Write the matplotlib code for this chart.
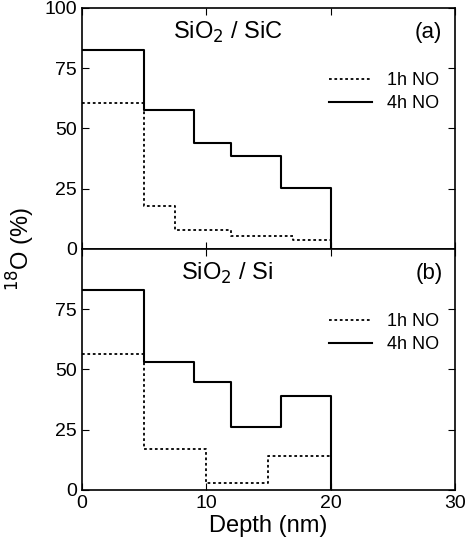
import matplotlib
matplotlib.use("Agg")
import matplotlib.pyplot as plt

plt.rcParams["font.family"] = ["Liberation Sans", "DejaVu Sans"]

# step edges (nm) and 18O fraction (%) per step
sic_4h_edges = [0, 5, 9, 12, 16, 20]
sic_4h_vals = [82.5, 57.5, 44, 38.5, 25.5]
sic_1h_edges = [0, 5, 7.5, 12, 17, 20]
sic_1h_vals = [60.5, 18, 8, 5.5, 3.8]

si_4h_edges = [0, 5, 9, 12, 16, 20]
si_4h_vals = [83, 53, 45, 26, 39]
si_1h_edges = [0, 5, 10, 15, 20]
si_1h_vals = [56.5, 17, 3, 14]


def steps(edges, vals):
    xs, ys = [], []
    for i, v in enumerate(vals):
        xs += [edges[i], edges[i + 1]]
        ys += [v, v]
    xs.append(edges[-1])
    ys.append(0)
    return xs, ys


fig = plt.figure(figsize=(4.68, 5.58), dpi=100)
ax1 = fig.add_axes([0.175, 0.5538, 0.797, 0.4319])
ax2 = fig.add_axes([0.175, 0.1219, 0.797, 0.4319])

panels = [
    (ax1, sic_1h_edges, sic_1h_vals, sic_4h_edges, sic_4h_vals, "SiO$_2$ / SiC", "(a)", [0, 25, 50, 75, 100]),
    (ax2, si_1h_edges, si_1h_vals, si_4h_edges, si_4h_vals, "SiO$_2$ / Si", "(b)", [0, 25, 50, 75]),
]
for ax, e1, v1, e4, v4, title, tag, yt in panels:
    x, y = steps(e1, v1)
    ax.plot(x, y, color="black", ls=(0, (1.5, 1.5)), lw=1.3, label="1h NO")
    x, y = steps(e4, v4)
    ax.plot(x, y, color="black", lw=1.5, label="4h NO")
    ax.set_xlim(0, 30)
    ax.set_ylim(0, 100)
    ax.set_yticks(yt)
    ax.set_xticks([0, 10, 20, 30])
    ax.tick_params(direction="in", labelsize=14, length=5, top=True, right=True)
    ax.text(0.39, 0.90, title, transform=ax.transAxes, fontsize=17, ha="center", va="center")
    ax.text(0.93, 0.90, tag, transform=ax.transAxes, fontsize=16, ha="center", va="center")
    ax.legend(loc="upper right", bbox_to_anchor=(1.0, 0.80), frameon=False, fontsize=13,
              handlelength=2.4, labelspacing=0.3)
    for s in ax.spines.values():
        s.set_linewidth(1.2)

ax1.tick_params(labelbottom=False)
ax2.set_xlabel("Depth (nm)", fontsize=17, labelpad=2)
fig.text(0.045, 0.5538, "$^{18}$O (%)", rotation=90, fontsize=17, ha="center", va="center")

fig.savefig("out.png", dpi=100)
